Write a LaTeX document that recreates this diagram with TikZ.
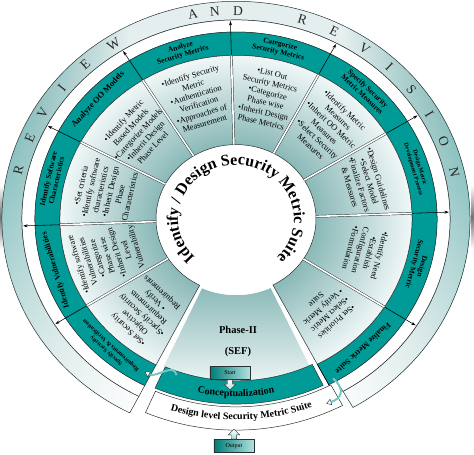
\documentclass[tikz,border=0pt]{standalone}
\usepackage{fontspec}
\setmainfont{Liberation Serif}
\usetikzlibrary{arrows.meta,shapes.arrows,decorations.text,fadings}
\definecolor{bandteal}{RGB}{0,155,150}
\definecolor{ringteal}{RGB}{20,140,138}
\definecolor{ringmid}{RGB}{120,178,176}
\definecolor{ringlight}{RGB}{226,237,237}
\definecolor{secdark}{RGB}{140,186,185}
\definecolor{secpale}{RGB}{240,247,247}
\definecolor{edge}{RGB}{40,50,50}
\pgfdeclareradialshading{sectshade}{\pgfpoint{0bp}{0bp}}{color(0bp)=(secdark); color(11.6bp)=(secdark); color(25bp)=(secpale); color(50bp)=(secpale)}
\pgfdeclarehorizontalshading{ringshade}{100bp}{color(0bp)=(ringteal); color(25bp)=(ringteal); color(32bp)=(ringmid); color(40bp)=(ringlight); color(50bp)=(ringlight); color(60bp)=(ringlight); color(68bp)=(ringmid); color(75bp)=(ringteal); color(100bp)=(ringteal)}
\tikzfading[name=fadelow, top color=transparent!100, middle color=transparent!100, bottom color=transparent!15]
\begin{document}
\begin{tikzpicture}[x=1pt,y=0.93pt,
  outl/.style={draw=edge, line width=0.5pt},
  dbl/.style={draw=edge, line width=0.45pt, double=white, double distance=1.6pt},
  divarrow/.style={draw=black, line width=0.55pt, -{Stealth[length=4.5pt,width=3pt]}},
  blabel/.style 2 args={font=\bfseries\fontsize{#1}{#2}\selectfont, align=center, inner sep=0pt, text=black},
  itext/.style={font=\fontsize{8.4}{10}\selectfont, align=center, inner sep=0pt, text=black},
  rletter/.style={font=\fontsize{13.5}{13.5}\selectfont, inner sep=0pt, text=black!85},
  curl/.style={draw=bandteal!55!white, line width=2pt, -{Triangle[open, fill=white, color=edge, length=5pt, width=6.5pt, line width=0.4pt]}},
  smallbox/.style={draw=edge, line width=0.4pt, left color=bandteal!80!black, right color=bandteal!30!white, minimum width=40pt, minimum height=13pt, inner sep=0pt, font=\fontsize{6}{6}\selectfont},
  blockarrow/.style={single arrow, draw=edge, line width=0.4pt, top color=white, bottom color=bandteal!35!white, minimum height=10pt, inner sep=2.5pt, single arrow head extend=3pt}
]
\useasboundingbox (-236pt,-236pt) rectangle (238pt,219pt);

% side shadows
\shade[top color=white, bottom color=white, middle color=black!55] (-236pt,-30pt) rectangle (-233pt,34pt);
\shade[top color=white, bottom color=white, middle color=black!55] (235pt,-30pt) rectangle (238pt,34pt);

% review ring
\shade[shading=ringshade] (-60:214) arc[start angle=-60,end angle=243,radius=214] -- (243:234) arc[start angle=243,end angle=-60,radius=234] -- cycle;
\fill[white, path fading=fadelow] (-60:214) arc[start angle=-60,end angle=243,radius=214] -- (243:234) arc[start angle=243,end angle=-60,radius=234] -- cycle;
\draw[outl] (-60:214) arc[start angle=-60,end angle=243,radius=214] -- (243:234) arc[start angle=243,end angle=-60,radius=234] -- cycle;

% white gap band
\filldraw[fill=white, outl] (-60:201) arc[start angle=-60,end angle=243,radius=201] -- (243:214) arc[start angle=243,end angle=-60,radius=214] -- cycle;

% teal label band
\filldraw[fill=bandteal, outl] (-62.5:176) arc[start angle=-62.5,end angle=243,radius=176] -- (243:201) arc[start angle=243,end angle=-62.5,radius=201] -- cycle;

% sectors
\begin{scope}
\clip (-62.5:80) arc[start angle=-62.5,end angle=243,radius=80] -- (243:176) arc[start angle=243,end angle=-62.5,radius=176] -- cycle;
\shade[shading=sectshade] (0,0) circle[radius=176];
\end{scope}
\draw[outl] (-62.5:80) arc[start angle=-62.5,end angle=243,radius=80] -- (243:176) arc[start angle=243,end angle=-62.5,radius=176] -- cycle;
\foreach \a in {212,182,152,122,91.5,62,31.5,2,-32.5} \draw[dbl] (\a:80) -- (\a:176);

% divider arrows
\foreach \a [count=\i] in {212,182,152,122,91.5,62,31.5,2,-32.5,-62.5} {
  \coordinate (ai\i) at (\a:176);
  \coordinate (ao\i) at (\a:213);
  \draw[divarrow] (ai\i) -- (ao\i);
}

% Phase-II region
\shade[top color=secdark, bottom color=secpale] (245.5:82) arc[start angle=245.5,end angle=295,radius=82] -- (295:174) arc[start angle=295,end angle=245.5,radius=174] -- cycle;

% Conceptualization band
\filldraw[fill=bandteal, outl] (246:174) arc[start angle=246,end angle=296,radius=174] -- (296:199) arc[start angle=296,end angle=246,radius=199] -- cycle;

% Design level band
\filldraw[fill=white, outl] (246.5:202) arc[start angle=246.5,end angle=298,radius=202] -- (298:227) arc[start angle=298,end angle=246.5,radius=227] -- cycle;

% curls
\coordinate (cl1) at (250.5:178);
\coordinate (cl2) at (241:188);
\draw[curl] (cl1) .. controls (248:166) and (245:189) .. (cl2);
\coordinate (cr1) at (-60.5:197);
\coordinate (cr2) at (-65.5:218);
\draw[curl] (cr1) .. controls (-59:214) and (-61.5:220) .. (cr2);

% band labels
\node[blabel={6}{6.8}, rotate=137.5] (bA) at (227.5:188.5) {Specify Security\\Requirements \& Verification};
\node[blabel={8}{9}, rotate=107] (bB) at (197:188.5) {Identify Vulnerabilities};
\node[blabel={7.5}{8.3}, rotate=77] (bC) at (167:188.5) {Identify Software\\Characteristics};
\node[blabel={8.5}{9.5}, rotate=47] (bD) at (137:188.5) {Analyze OO Models};
\node[blabel={7.5}{8.3}, rotate=16.75] (bE) at (106.75:188.5) {Analyze\\Security Metrics};
\node[blabel={7.5}{8.3}, rotate=-13.25] (bF) at (76.75:188.5) {Categorize\\Security Metrics};
\node[blabel={7.5}{8.3}, rotate=-43.25] (bG) at (46.75:188.5) {Specify Security\\Metric Measures};
\node[blabel={6}{6.8}, rotate=-73.25] (bH) at (16.75:188.5) {Design Metric\\Development Process};
\node[blabel={7.5}{8.3}, rotate=-105.25] (bI) at (-15.25:188.5) {Design\\Security Metric};
\node[blabel={8}{9}, rotate=-137.5] (bJ) at (-47.5:188.5) {Finalize Metric Suite};

% sector texts
\node[itext, rotate=137.5] (tA) at (227.5:134) {•Set Security\\Objective\\•Specify Security\\Requirements\\• Verify\\Requirements};
\node[itext, rotate=107] (tB) at (197:134) {•Identify software\\Vulnerabilities\\•Categorize\\Phase wise\\•Inherit Design\\Level\\Vulnerability};
\node[itext, rotate=77] (tC) at (167:134) {•Set criteria\\•Identify software\\characteristics\\•Inherit Design\\Phase\\Characteristics};
\node[itext, rotate=47] (tD) at (137:134) {•Identify Metric\\Based Models\\•Categorize Models\\•Inherit Design\\Phase Level};
\node[itext, rotate=16.75] (tE) at (106.75:134) {•Identify Security\\Metric\\•Authentication\\Verification\\•Approaches of\\Measurement};
\node[itext, rotate=-13.25] (tF) at (76.75:134) {•List Out\\Security Metrics\\•Categorize\\Phase wise\\•Inherit Design\\Phase Metrics};
\node[itext, rotate=-43.25] (tG) at (46.75:134) {•Identify Metric\\Measures\\•Inherit OO Metric\\Measures\\•Select Security\\Measures};
\node[itext, rotate=-73.25] (tH) at (16.75:134) {•Design Guidelines\\•Select Model\\•Finalize Factors\\\& Measures};
\node[itext, rotate=-105.25] (tI) at (-15.25:134) {•Identify Need\\•Establish\\Configuration\\•Formulation};
\node[itext, rotate=-137.5] (tJ) at (-47.5:134) {•Set Priorities\\•Select Metric\\• Verify Metric\\Suite};

% review and revision letters
\foreach \L/\a [count=\i] in {R/166.3, E/157, V/149.5, I/141, E/132.3, W/123.1, A/101.1, N/95.4, D/89.5, R/72.7, E/64, V/55, I/46.8, S/38.5, I/30.3, O/22, N/13} {
  \node[rletter, rotate=\a-90] (rv\i) at (\a:224) {\L};
}

% centre title
\path[decorate, decoration={text along path, text align=center, text={|\bfseries\fontsize{16}{16}\selectfont|Identify / Design Security Metric Suite}}] (232:58) arc[start angle=232,end angle=-52,radius=58];

% Phase-II text
\node[font=\bfseries\fontsize{10.5}{10.5}\selectfont, inner sep=0pt] (ph) at (2pt,-111pt) {Phase-II};
\node[font=\bfseries\fontsize{10.5}{10.5}\selectfont, inner sep=0pt] (sef) at (2pt,-133pt) {(SEF)};

% curved bottom labels
\path[decorate, decoration={text along path, text align=center, text={|\bfseries\fontsize{10}{10}\selectfont|Conceptualization}}] (252:191) arc[start angle=252,end angle=288,radius=191];
\path[decorate, decoration={text along path, text align=center, text={|\bfseries\fontsize{10}{10}\selectfont|Design level Security Metric Suite}}] (247:216) arc[start angle=247,end angle=296,radius=216];

% start / output
\node[smallbox] (start) at (-6pt,-154pt) {Start};
\node[blockarrow, shape border rotate=270, anchor=tail] (sarr) at (start.south) {};
\node[smallbox] (output) at (-2pt,-227pt) {Output};
\node[blockarrow, shape border rotate=90, anchor=tail] (oarr) at (output.north) {};
\end{tikzpicture}
\end{document}
